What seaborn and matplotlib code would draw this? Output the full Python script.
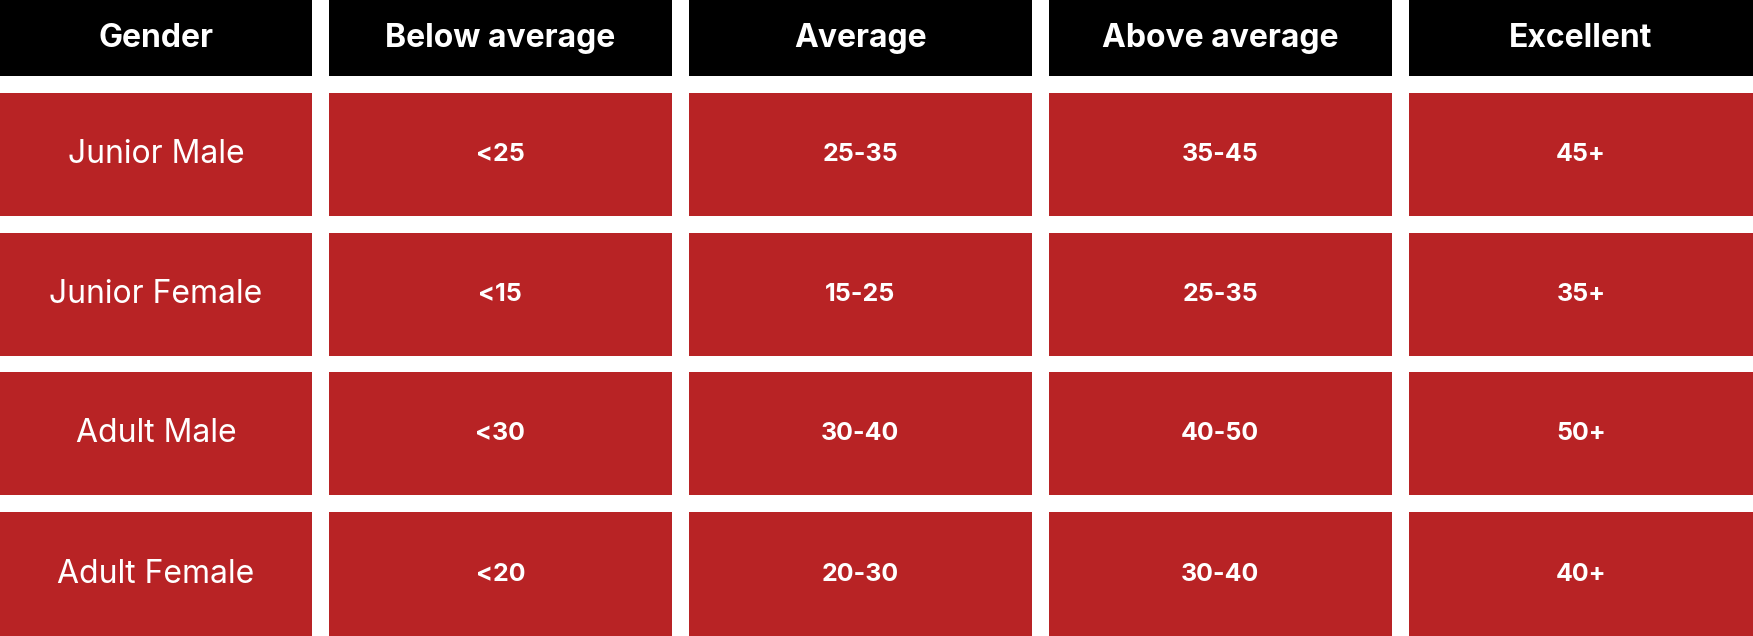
import matplotlib
matplotlib.use("Agg")
import matplotlib.pyplot as plt
import seaborn as sns

sns.set_theme(style="white")
plt.rcParams['font.family'] = ['Inter', 'DejaVu Sans']

headers = ["Gender", "Below average", "Average", "Above average", "Excellent"]
genders = ["Junior Male", "Junior Female", "Adult Male", "Adult Female"]
below = ["<25", "<15", "<30", "<20"]
average = ["25-35", "15-25", "30-40", "20-30"]
above = ["35-45", "25-35", "40-50", "30-40"]
excellent = ["45+", "35+", "50+", "40+"]

W, H = 1753, 636
s = W / 1568
col_left = [0, 294, 616, 938, 1260]
col_right = [279, 601, 923, 1245, 1568]
row_top = [0, 83, 208, 333, 458]
row_bot = [68, 193, 318, 443, 569]
red = "#B82325"

fig = plt.figure(figsize=(W / 100, H / 100), dpi=100)
ax = fig.add_axes([0, 0, 1, 1])
ax.set_xlim(0, W)
ax.set_ylim(H, 0)
ax.axis("off")

rows = [headers] + [list(r) for r in zip(genders, below, average, above, excellent)]
lefts = [l * s for l in col_left]
widths = [(r - l) * s for l, r in zip(col_left, col_right)]
for i, row in enumerate(rows):
    top, bot = row_top[i] * s, row_bot[i] * s
    color = "black" if i == 0 else red
    ax.barh(y=(top + bot) / 2, width=widths, left=lefts, height=bot - top,
            color=color, linewidth=0)
    for j, txt in enumerate(row):
        cx = lefts[j] + widths[j] / 2
        if i == 0:
            fs, fw = 23, "bold"
        elif j == 0:
            fs, fw = 23, "normal"
        else:
            fs, fw = 18, "bold"
        ax.text(cx, (top + bot) / 2, txt, ha="center", va="center",
                color="white", fontsize=fs, fontweight=fw)

fig.savefig("out.png", dpi=100, facecolor="white")
